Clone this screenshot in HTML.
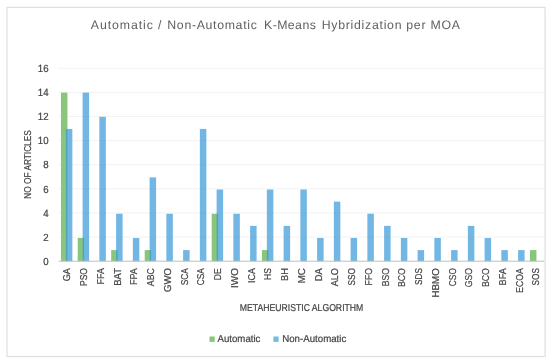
<!DOCTYPE html>
<html><head><meta charset="utf-8"><title>Automatic / Non-Automatic K-Means Hybridization per MOA</title>
<style>
html,body{margin:0;padding:0;background:#fff;}
body{width:550px;height:362px;overflow:hidden;}
svg{display:block;font-family:"Liberation Sans",sans-serif;text-rendering:geometricPrecision;}
.t{fill:#5f5f5f}
.a{fill:#454545;stroke:#454545;stroke-width:0.22}
</style></head><body>
<svg width="550" height="362" viewBox="0 0 550 362">
<rect x="0" y="0" width="550" height="362" fill="#fff"/>
<rect x="7.0" y="7.4" width="538.1" height="349.1" fill="#fff" stroke="#e0e0e0" stroke-width="1.3"/>

<line x1="58.5" x2="544.25" y1="237.08" y2="237.08" stroke="#f2f2f2" stroke-width="1"/>
<line x1="58.5" x2="544.25" y1="212.96" y2="212.96" stroke="#f2f2f2" stroke-width="1"/>
<line x1="58.5" x2="544.25" y1="188.84" y2="188.84" stroke="#f2f2f2" stroke-width="1"/>
<line x1="58.5" x2="544.25" y1="164.72" y2="164.72" stroke="#f2f2f2" stroke-width="1"/>
<line x1="58.5" x2="544.25" y1="140.60" y2="140.60" stroke="#f2f2f2" stroke-width="1"/>
<line x1="58.5" x2="544.25" y1="116.48" y2="116.48" stroke="#f2f2f2" stroke-width="1"/>
<line x1="58.5" x2="544.25" y1="92.36" y2="92.36" stroke="#f2f2f2" stroke-width="1"/>
<line x1="58.5" x2="544.25" y1="68.24" y2="68.24" stroke="#f2f2f2" stroke-width="1"/>
<rect x="60.95" y="92.60" width="6.5" height="168.60" fill="#89c57a"/>
<rect x="65.85" y="128.95" width="6.5" height="132.25" fill="#3698d8" fill-opacity="0.7"/>
<rect x="77.70" y="237.97" width="6.5" height="23.23" fill="#89c57a"/>
<rect x="82.60" y="92.60" width="6.5" height="168.60" fill="#3698d8" fill-opacity="0.7"/>
<rect x="99.35" y="116.83" width="6.5" height="144.37" fill="#3698d8" fill-opacity="0.7"/>
<rect x="111.20" y="250.09" width="6.5" height="11.11" fill="#89c57a"/>
<rect x="116.10" y="213.74" width="6.5" height="47.46" fill="#3698d8" fill-opacity="0.7"/>
<rect x="132.85" y="237.97" width="6.5" height="23.23" fill="#3698d8" fill-opacity="0.7"/>
<rect x="144.70" y="250.09" width="6.5" height="11.11" fill="#89c57a"/>
<rect x="149.60" y="177.40" width="6.5" height="83.80" fill="#3698d8" fill-opacity="0.7"/>
<rect x="166.35" y="213.74" width="6.5" height="47.46" fill="#3698d8" fill-opacity="0.7"/>
<rect x="183.10" y="250.09" width="6.5" height="11.11" fill="#3698d8" fill-opacity="0.7"/>
<rect x="199.85" y="128.95" width="6.5" height="132.25" fill="#3698d8" fill-opacity="0.7"/>
<rect x="211.70" y="213.74" width="6.5" height="47.46" fill="#89c57a"/>
<rect x="216.60" y="189.52" width="6.5" height="71.68" fill="#3698d8" fill-opacity="0.7"/>
<rect x="233.35" y="213.74" width="6.5" height="47.46" fill="#3698d8" fill-opacity="0.7"/>
<rect x="250.10" y="225.86" width="6.5" height="35.34" fill="#3698d8" fill-opacity="0.7"/>
<rect x="261.95" y="250.09" width="6.5" height="11.11" fill="#89c57a"/>
<rect x="266.85" y="189.52" width="6.5" height="71.68" fill="#3698d8" fill-opacity="0.7"/>
<rect x="283.60" y="225.86" width="6.5" height="35.34" fill="#3698d8" fill-opacity="0.7"/>
<rect x="300.35" y="189.52" width="6.5" height="71.68" fill="#3698d8" fill-opacity="0.7"/>
<rect x="317.10" y="237.97" width="6.5" height="23.23" fill="#3698d8" fill-opacity="0.7"/>
<rect x="333.85" y="201.63" width="6.5" height="59.57" fill="#3698d8" fill-opacity="0.7"/>
<rect x="350.60" y="237.97" width="6.5" height="23.23" fill="#3698d8" fill-opacity="0.7"/>
<rect x="367.35" y="213.74" width="6.5" height="47.46" fill="#3698d8" fill-opacity="0.7"/>
<rect x="384.10" y="225.86" width="6.5" height="35.34" fill="#3698d8" fill-opacity="0.7"/>
<rect x="400.85" y="237.97" width="6.5" height="23.23" fill="#3698d8" fill-opacity="0.7"/>
<rect x="417.60" y="250.09" width="6.5" height="11.11" fill="#3698d8" fill-opacity="0.7"/>
<rect x="434.35" y="237.97" width="6.5" height="23.23" fill="#3698d8" fill-opacity="0.7"/>
<rect x="451.10" y="250.09" width="6.5" height="11.11" fill="#3698d8" fill-opacity="0.7"/>
<rect x="467.85" y="225.86" width="6.5" height="35.34" fill="#3698d8" fill-opacity="0.7"/>
<rect x="484.60" y="237.97" width="6.5" height="23.23" fill="#3698d8" fill-opacity="0.7"/>
<rect x="501.35" y="250.09" width="6.5" height="11.11" fill="#3698d8" fill-opacity="0.7"/>
<rect x="518.10" y="250.09" width="6.5" height="11.11" fill="#3698d8" fill-opacity="0.7"/>
<rect x="529.95" y="250.09" width="6.5" height="11.11" fill="#89c57a"/>
<line x1="58.5" x2="544.25" y1="261.2" y2="261.2" stroke="#bfbfbf" stroke-width="1"/>
<text class="a" font-size="10.4" text-anchor="end" transform="translate(48.6,264.90) scale(0.93,1)">0</text>
<text class="a" font-size="10.4" text-anchor="end" transform="translate(48.6,240.78) scale(0.93,1)">2</text>
<text class="a" font-size="10.4" text-anchor="end" transform="translate(48.6,216.66) scale(0.93,1)">4</text>
<text class="a" font-size="10.4" text-anchor="end" transform="translate(48.6,192.54) scale(0.93,1)">6</text>
<text class="a" font-size="10.4" text-anchor="end" transform="translate(48.6,168.42) scale(0.93,1)">8</text>
<text class="a" font-size="10.4" text-anchor="end" transform="translate(48.6,144.30) scale(0.93,1)">10</text>
<text class="a" font-size="10.4" text-anchor="end" transform="translate(48.6,120.18) scale(0.93,1)">12</text>
<text class="a" font-size="10.4" text-anchor="end" transform="translate(48.6,96.06) scale(0.93,1)">14</text>
<text class="a" font-size="10.4" text-anchor="end" transform="translate(48.6,71.94) scale(0.93,1)">16</text>
<text class="a" font-size="10" text-anchor="end" textLength="13.2" lengthAdjust="spacingAndGlyphs" transform="translate(70.28,268.1) rotate(-90)">GA</text>
<text class="a" font-size="10" text-anchor="end" textLength="17.9" lengthAdjust="spacingAndGlyphs" transform="translate(87.03,268.1) rotate(-90)">PSO</text>
<text class="a" font-size="10" text-anchor="end" textLength="16.4" lengthAdjust="spacingAndGlyphs" transform="translate(103.78,268.1) rotate(-90)">FFA</text>
<text class="a" font-size="10" text-anchor="end" textLength="17.6" lengthAdjust="spacingAndGlyphs" transform="translate(120.53,268.1) rotate(-90)">BAT</text>
<text class="a" font-size="10" text-anchor="end" textLength="17.0" lengthAdjust="spacingAndGlyphs" transform="translate(137.28,268.1) rotate(-90)">FPA</text>
<text class="a" font-size="10" text-anchor="end" textLength="18.1" lengthAdjust="spacingAndGlyphs" transform="translate(154.03,268.1) rotate(-90)">ABC</text>
<text class="a" font-size="10" text-anchor="end" textLength="23.9" lengthAdjust="spacingAndGlyphs" transform="translate(170.78,268.1) rotate(-90)">GWO</text>
<text class="a" font-size="10" text-anchor="end" textLength="17.2" lengthAdjust="spacingAndGlyphs" transform="translate(187.53,268.1) rotate(-90)">SCA</text>
<text class="a" font-size="10" text-anchor="end" textLength="17.2" lengthAdjust="spacingAndGlyphs" transform="translate(204.28,268.1) rotate(-90)">CSA</text>
<text class="a" font-size="10" text-anchor="end" textLength="12.1" lengthAdjust="spacingAndGlyphs" transform="translate(221.03,268.1) rotate(-90)">DE</text>
<text class="a" font-size="10" text-anchor="end" textLength="19.8" lengthAdjust="spacingAndGlyphs" transform="translate(237.78,268.1) rotate(-90)">IWO</text>
<text class="a" font-size="10" text-anchor="end" textLength="14.9" lengthAdjust="spacingAndGlyphs" transform="translate(254.53,268.1) rotate(-90)">ICA</text>
<text class="a" font-size="10" text-anchor="end" textLength="11.8" lengthAdjust="spacingAndGlyphs" transform="translate(271.27,268.1) rotate(-90)">HS</text>
<text class="a" font-size="10" text-anchor="end" textLength="12.8" lengthAdjust="spacingAndGlyphs" transform="translate(288.02,268.1) rotate(-90)">BH</text>
<text class="a" font-size="10" text-anchor="end" textLength="15.2" lengthAdjust="spacingAndGlyphs" transform="translate(304.77,268.1) rotate(-90)">MC</text>
<text class="a" font-size="10" text-anchor="end" textLength="13.1" lengthAdjust="spacingAndGlyphs" transform="translate(321.52,268.1) rotate(-90)">DA</text>
<text class="a" font-size="10" text-anchor="end" textLength="18.2" lengthAdjust="spacingAndGlyphs" transform="translate(338.27,268.1) rotate(-90)">ALO</text>
<text class="a" font-size="10" text-anchor="end" textLength="17.3" lengthAdjust="spacingAndGlyphs" transform="translate(355.02,268.1) rotate(-90)">SSO</text>
<text class="a" font-size="10" text-anchor="end" textLength="17.3" lengthAdjust="spacingAndGlyphs" transform="translate(371.77,268.1) rotate(-90)">FFO</text>
<text class="a" font-size="10" text-anchor="end" textLength="18.2" lengthAdjust="spacingAndGlyphs" transform="translate(388.52,268.1) rotate(-90)">BSO</text>
<text class="a" font-size="10" text-anchor="end" textLength="19.0" lengthAdjust="spacingAndGlyphs" transform="translate(405.27,268.1) rotate(-90)">BCO</text>
<text class="a" font-size="10" text-anchor="end" textLength="16.8" lengthAdjust="spacingAndGlyphs" transform="translate(422.02,268.1) rotate(-90)">SDS</text>
<text class="a" font-size="10" text-anchor="end" textLength="29.4" lengthAdjust="spacingAndGlyphs" transform="translate(438.77,268.1) rotate(-90)">HBMO</text>
<text class="a" font-size="10" text-anchor="end" textLength="18.1" lengthAdjust="spacingAndGlyphs" transform="translate(455.52,268.1) rotate(-90)">CSO</text>
<text class="a" font-size="10" text-anchor="end" textLength="19.2" lengthAdjust="spacingAndGlyphs" transform="translate(472.27,268.1) rotate(-90)">GSO</text>
<text class="a" font-size="10" text-anchor="end" textLength="19.0" lengthAdjust="spacingAndGlyphs" transform="translate(489.02,268.1) rotate(-90)">BCO</text>
<text class="a" font-size="10" text-anchor="end" textLength="17.3" lengthAdjust="spacingAndGlyphs" transform="translate(505.77,268.1) rotate(-90)">BFA</text>
<text class="a" font-size="10" text-anchor="end" textLength="24.8" lengthAdjust="spacingAndGlyphs" transform="translate(522.52,268.1) rotate(-90)">ECOA</text>
<text class="a" font-size="10" text-anchor="end" textLength="17.3" lengthAdjust="spacingAndGlyphs" transform="translate(539.27,268.1) rotate(-90)">SOS</text>
<text class="t" y="28.7" font-size="12.3"><tspan x="90.8" textLength="62.1" lengthAdjust="spacing">Automatic</tspan> <tspan x="158.1">/</tspan> <tspan x="167.3" textLength="89.5" lengthAdjust="spacing">Non-Automatic</tspan> <tspan x="264.0" textLength="51.8" lengthAdjust="spacing">K-Means</tspan> <tspan x="321.7" textLength="79.8" lengthAdjust="spacing">Hybridization</tspan> <tspan x="406.2" textLength="19.4" lengthAdjust="spacing">per</tspan> <tspan x="430.4" textLength="29.6" lengthAdjust="spacing">MOA</tspan></text>
<text class="a" font-size="10" textLength="68.5" lengthAdjust="spacingAndGlyphs" transform="translate(31.4,198.7) rotate(-90)">NO OF ARTICLES</text>
<text class="a" x="239.8" y="311.1" font-size="10" textLength="123.5" lengthAdjust="spacingAndGlyphs">METAHEURISTIC ALGORITHM</text>
<rect x="209.5" y="336.5" width="5.2" height="5.4" fill="#89c57a"/>
<text class="a" x="217.5" y="342" font-size="10" textLength="42.9" lengthAdjust="spacingAndGlyphs">Automatic</text>
<rect x="273.4" y="336.5" width="5.2" height="5.4" fill="#76bae4"/>
<text class="a" x="282.2" y="342" font-size="10" textLength="64.1" lengthAdjust="spacingAndGlyphs">Non-Automatic</text>
</svg></body></html>
